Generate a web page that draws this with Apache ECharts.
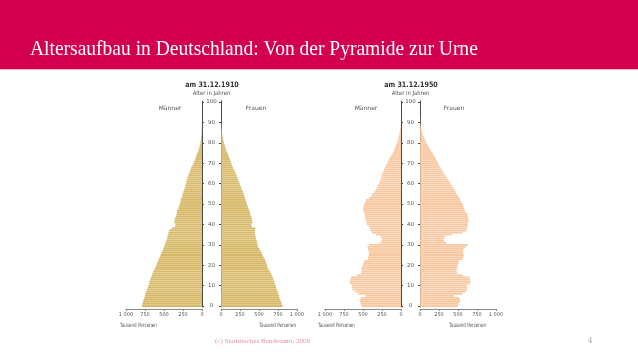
<!DOCTYPE html>
<html>
<head>
<meta charset="UTF-8">
<title>Altersaufbau</title>
<script src="https://cdn.jsdelivr.net/npm/echarts@6/dist/echarts.min.js"></script>
<style>
  html, body { margin: 0; padding: 0; background: #fff; }
  #main { width: 638px; height: 359px; }
</style>
</head>
<body>
<div id="main"></div>
<script>
// Alter 0..100
var ages = [];
for (var a = 0; a <= 100; a++) ages.push(String(a));

// Werte in Tausend (je Altersjahr 0..100)
var maenner1910 = [
  790, 785, 775, 770, 760, 750, 745, 735, 725, 715,
  705, 695, 690, 680, 670, 660, 650, 640, 625, 610,
  600, 590, 580, 570, 555, 545, 535, 520, 510, 500,
  490, 480, 470, 460, 455, 445, 440, 430, 400, 355,
  350, 365, 360, 355, 345, 335, 330, 325, 310, 300,
  290, 285, 280, 270, 260, 255, 245, 235, 225, 220,
  210, 205, 200, 190, 180, 170, 160, 150, 140, 125,
  110, 100, 90, 80, 70, 60, 50, 42, 35, 28,
  22, 18, 14, 11, 8, 6, 4, 3, 2, 1,
  1, 1, 0, 0, 0, 0, 0, 0, 0, 0, 0
];
var frauen1910 = [
  810, 800, 790, 780, 770, 765, 755, 745, 735, 725,
  720, 710, 700, 690, 680, 670, 655, 640, 625, 610,
  605, 595, 585, 575, 560, 545, 535, 520, 505, 490,
  480, 475, 470, 462, 455, 450, 448, 445, 450, 405,
  400, 415, 410, 405, 395, 385, 380, 370, 360, 350,
  340, 335, 325, 315, 305, 300, 290, 275, 265, 255,
  245, 235, 225, 215, 205, 195, 180, 165, 155, 145,
  135, 125, 115, 105, 95, 85, 72, 62, 55, 48,
  40, 33, 27, 22, 17, 13, 10, 7, 5, 3,
  2, 1, 1, 0, 0, 0, 0, 0, 0, 0, 0
];
var maenner1950 = [
  520, 530, 540, 545, 530, 470, 560, 600, 640, 650,
  640, 670, 675, 665, 660, 580, 530, 520, 515, 520,
  500, 495, 480, 440, 430, 425, 420, 430, 435, 440,
  420, 270, 255, 250, 265, 330, 385, 400, 410, 420,
  450, 455, 460, 470, 475, 480, 490, 500, 500, 495,
  480, 475, 460, 420, 390, 380, 350, 330, 320, 310,
  290, 280, 270, 260, 255, 245, 235, 220, 210, 200,
  180, 170, 160, 140, 125, 110, 95, 85, 75, 65,
  55, 45, 38, 30, 24, 18, 13, 9, 6, 4,
  3, 2, 1, 1, 0, 0, 0, 0, 0, 0, 0
];
var frauen1950 = [
  500, 510, 525, 530, 515, 450, 560, 600, 620, 620,
  615, 650, 665, 660, 650, 565, 490, 480, 485, 490,
  500, 505, 510, 560, 570, 575, 570, 565, 575, 600,
  630, 350, 320, 310, 330, 420, 560, 610, 620, 625,
  630, 635, 640, 635, 630, 625, 600, 590, 575, 570,
  560, 540, 530, 520, 500, 480, 465, 455, 440, 420,
  400, 385, 370, 345, 330, 315, 300, 285, 265, 250,
  240, 225, 210, 195, 180, 165, 145, 130, 115, 100,
  85, 72, 60, 48, 38, 30, 22, 15, 10, 6,
  4, 3, 2, 1, 1, 0, 0, 0, 0, 0, 0
];

var gold = '#d6b866';
var peach = '#f8c8a2';
var axisCol = '#4a4a4a';
var txtCol = '#555';
var small = 'DejaVu Sans';

var chart = echarts.init(document.getElementById('main'));

// grid-Positionen
var grids = [
  { left: 126, width: 76 },
  { left: 221, width: 76 },
  { left: 325, width: 76 },
  { left: 420, width: 76 }
];

function xAxisFor(i, inverse) {
  return {
    type: 'value',
    gridIndex: i,
    min: 0,
    max: 1000,
    interval: 250,
    inverse: inverse,
    offset: 2,
    axisLine: { show: true, lineStyle: { color: '#888', width: 1 } },
    axisTick: { show: true, length: 2, lineStyle: { color: '#888' } },
    splitLine: { show: false },
    axisLabel: {
      fontSize: 5, color: txtCol, fontFamily: small, margin: 3,
      formatter: function (v) { return v === 1000 ? '1 000' : String(v); }
    }
  };
}

function yAxisFor(i, male) {
  return {
    type: 'category',
    gridIndex: i,
    data: ages,
    position: male ? 'right' : 'left',
    axisLine: { show: true, lineStyle: { color: axisCol, width: 1 } },
    axisTick: { show: true, interval: 9, alignWithLabel: true, length: 2, lineStyle: { color: axisCol } },
    axisLabel: {
      show: male, interval: 9, align: 'center', margin: 9.5,
      fontSize: 5.5, color: txtCol, fontFamily: small
    },
    splitLine: { show: false }
  };
}

function barSeries(i, data, color) {
  return {
    type: 'bar',
    xAxisIndex: i,
    yAxisIndex: i,
    data: data,
    barCategoryGap: '12%',
    itemStyle: { color: color },
    silent: true
  };
}

function txt(x, y, s, opts) {
  opts = opts || {};
  return {
    type: 'text',
    x: x, y: y,
    scaleX: opts.sx || 1,
    style: {
      text: s,
      fill: opts.fill || txtCol,
      fontSize: opts.size || 6,
      fontFamily: opts.family || small,
      fontWeight: opts.weight || 'normal',
      align: opts.align || 'center',
      verticalAlign: 'middle'
    },
    silent: true
  };
}

var option = {
  animation: false,
  backgroundColor: '#fff',
  graphic: [
    { type: 'rect', z: -10, shape: { x: 0, y: 0, width: 638, height: 69 }, style: { fill: '#d3004f' }, silent: true },
    { type: 'rect', z: -10, shape: { x: 0, y: 69, width: 638, height: 1 }, style: { fill: '#eab3c6' }, silent: true },
    txt(30, 49, 'Altersaufbau in Deutschland: Von der Pyramide zur Urne',
      { size: 22, family: 'Liberation Serif', fill: '#fff', align: 'left', sx: 0.887 }),
    txt(212, 85, 'am 31.12.1910', { size: 7.5, weight: 'bold', fill: '#333', sx: 0.85 }),
    txt(211.5, 93, 'Alter in Jahren', { sx: 0.88 }),
    txt(170, 108, 'Männer'),
    txt(256, 108, 'Frauen'),
    txt(120, 325, 'Tausend Personen', { align: 'left', sx: 0.68 }),
    txt(296, 325, 'Tausend Personen', { align: 'right', sx: 0.68 }),
    txt(411, 85, 'am 31.12.1950', { size: 7.5, weight: 'bold', fill: '#333', sx: 0.85 }),
    txt(410.5, 93, 'Alter in Jahren', { sx: 0.88 }),
    txt(366, 108, 'Männer'),
    txt(454, 108, 'Frauen'),
    txt(318, 325, 'Tausend Personen', { align: 'left', sx: 0.68 }),
    txt(486, 325, 'Tausend Personen', { align: 'right', sx: 0.68 }),
    txt(215, 341, '(c) Statistisches Bundesamt, 2009', { size: 7, family: 'Liberation Serif', fill: '#e58fb0', align: 'left' }),
    txt(590, 341, '4', { size: 8, family: 'Liberation Serif', fill: '#999' })
  ],
  grid: grids.map(function (g) {
    return { left: g.left, width: g.width, top: 101, height: 206, containLabel: false };
  }),
  xAxis: [xAxisFor(0, true), xAxisFor(1, false), xAxisFor(2, true), xAxisFor(3, false)],
  yAxis: [yAxisFor(0, true), yAxisFor(1, false), yAxisFor(2, true), yAxisFor(3, false)],
  series: [
    barSeries(0, maenner1910, gold),
    barSeries(1, frauen1910, gold),
    barSeries(2, maenner1950, peach),
    barSeries(3, frauen1950, peach)
  ]
};

chart.setOption(option);
</script>
</body>
</html>
